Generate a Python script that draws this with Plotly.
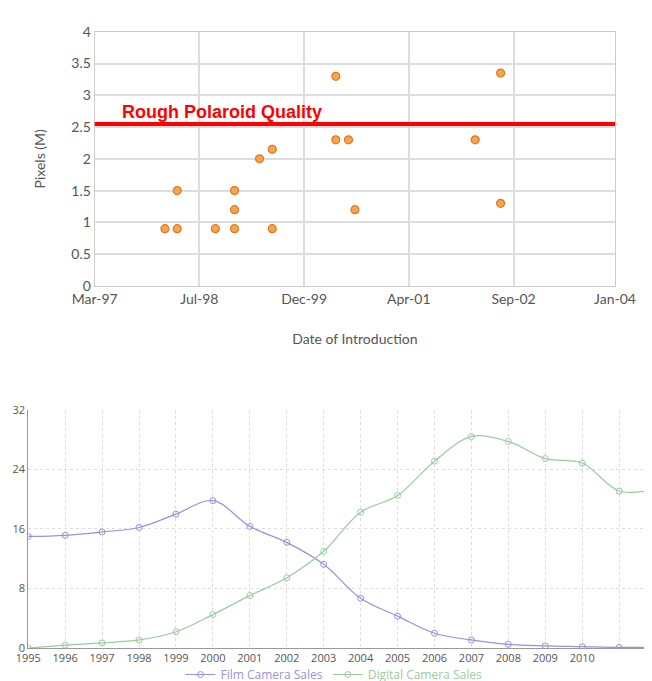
import plotly.graph_objs as go

# top chart: camera resolution by introduction date
intro_dates = ["1998-02-01", "1998-04-01", "1998-04-01", "1998-10-01", "1999-01-01", "1999-01-01",
               "1999-01-01", "1999-05-01", "1999-07-01", "1999-07-01", "2000-05-01", "2000-05-01",
               "2000-07-01", "2000-08-01", "2002-03-01", "2002-07-01", "2002-07-01"]
pixels_m = [0.9, 0.9, 1.5, 0.9, 0.9, 1.2, 1.5, 2.0, 2.15, 0.9, 3.3, 2.3, 2.3, 1.2, 2.3, 3.35, 1.3]
polaroid_level = 2.55
date_ticks = ["1997-03-01", "1998-07-16", "1999-12-01", "2001-04-16", "2002-09-01", "2004-01-01"]
date_labels = ["Mar-97", "Jul-98", "Dec-99", "Apr-01", "Sep-02", "Jan-04"]

# bottom chart: camera sales
years = list(range(1995, 2013))
film_sales = [15.0, 15.15, 15.6, 16.2, 18.0, 19.8, 16.35, 14.2, 11.25, 6.7, 4.3, 2.0, 1.1, 0.5, 0.3, 0.2, 0.1, 0.1]
digital_sales = [0.0, 0.4, 0.7, 1.1, 2.2, 4.5, 7.05, 9.45, 13.0, 18.25, 20.5, 25.1, 28.4, 27.75, 25.45, 24.85, 21.1, 21.35]
year_labels = [str(y) if y != 2011 else "" for y in years]

purple = "#9a90dc"
green = "#99cc9f"
gray_txt = "#555555"

fig = go.Figure()

fig.add_trace(go.Scatter(x=intro_dates, y=pixels_m, mode="markers", showlegend=False,
                         marker=dict(size=8, color="#f7a350", line=dict(color="#e07a20", width=1.2)),
                         xaxis="x", yaxis="y"))

fig.add_trace(go.Scatter(x=years, y=film_sales, mode="lines+markers", line_shape="spline",
                         name="<span style='color:%s'>Film Camera Sales</span>" % purple,
                         line=dict(color=purple, width=1.2),
                         marker=dict(symbol="circle-open", size=6, color=purple),
                         xaxis="x2", yaxis="y2"))
fig.add_trace(go.Scatter(x=years, y=digital_sales, mode="lines+markers", line_shape="spline",
                         name="<span style='color:%s'>Digital Camera Sales</span>" % green,
                         line=dict(color=green, width=1.2),
                         marker=dict(symbol="circle-open", size=6, color=green),
                         xaxis="x2", yaxis="y2"))

# top plot background (white box) and polaroid line
fig.add_shape(type="line", xref="x domain", yref="y", x0=0, x1=1, y0=polaroid_level, y1=polaroid_level,
              line=dict(color="red", width=4))
fig.add_annotation(xref="x", yref="y", x="1997-07-01", y=polaroid_level, yanchor="bottom", xanchor="left",
                   text="<b>Rough Polaroid Quality</b>", showarrow=False,
                   font=dict(family="Liberation Sans", size=18, color="red"))

fig.update_layout(
    width=652, height=681,
    margin=dict(l=0, r=0, t=0, b=0),
    paper_bgcolor="white", plot_bgcolor="white",
    font=dict(family="Lato", color=gray_txt),
    xaxis=dict(domain=[0.133, 0.931], anchor="y", type="date", automargin=False,
               range=["1997-03-01", "2004-01-01"], tickvals=date_ticks, ticktext=date_labels,
               showgrid=True, gridcolor="#dddddd", gridwidth=1.5, showline=True, linecolor="#cccccc",
               mirror=True, tickfont=dict(size=14), ticks="",
               title=dict(text="Date of Introduction", font=dict(size=14), standoff=28)),
    yaxis=dict(domain=[0.592, 0.965], anchor="x", range=[0, 4], dtick=0.5, automargin=False,
               showgrid=True, gridcolor="#dddddd", gridwidth=1.5, showline=True, linecolor="#cccccc",
               mirror=True, tickfont=dict(size=14), zeroline=False,
               title=dict(text="Pixels (M)", font=dict(size=14), standoff=22)),
    xaxis2=dict(domain=[0.031, 0.994], anchor="y2", range=[1995, 2012], tickvals=years, automargin=False,
                ticktext=year_labels, showgrid=True, gridcolor="#dddddd", griddash="dot",
                showline=True, linecolor="#999999", tickfont=dict(size=11, family="Open Sans"), ticks=""),
    yaxis2=dict(domain=[0.06, 0.41], anchor="x2", range=[0, 32], dtick=8, automargin=False,
                showgrid=True, gridcolor="#dddddd", griddash="dot", zeroline=False,
                showline=True, linecolor="#999999", tickfont=dict(size=11, family="Open Sans"), ticks=""),
    legend=dict(orientation="h", x=0.5, xanchor="center", y=0.0, yanchor="bottom",
                font=dict(size=12, family="Open Sans"), bgcolor="rgba(0,0,0,0)"),
)

fig.write_html("out.html")
